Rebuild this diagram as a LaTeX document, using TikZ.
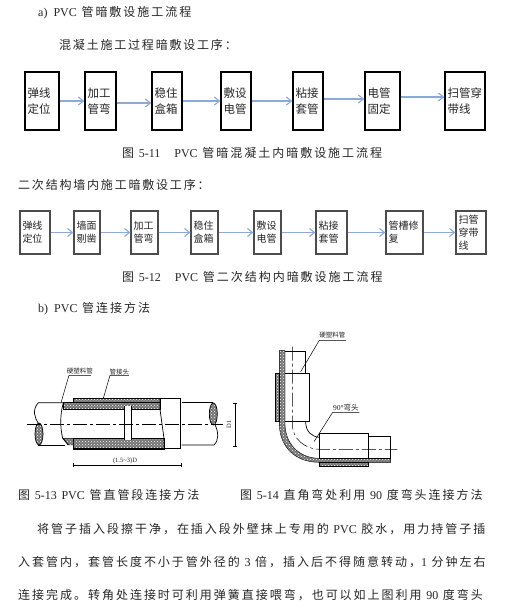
\documentclass[tikz,border=0pt]{standalone}
\usepackage{fontspec}
\usetikzlibrary{arrows.meta,patterns}
\setmainfont{Liberation Serif}
\newfontfamily\cjkbody[LetterSpace=15]{Noto Sans CJK SC}
\newfontfamily\cjkpara[LetterSpace=16.5]{Noto Sans CJK SC}
\newfontfamily\cjkbox{Noto Sans CJK SC}
\newcommand{\lat}[1]{{\fontspec{Liberation Serif}\fontsize{12}{12}\selectfont #1}}
\newcommand{\fwcomma}{\char"FF0C\relax}
\newcommand{\fwcolon}{\char"FF1A\relax}
\tikzset{
  line/.style={anchor=west,inner sep=0pt,text=black!85,font=\fontsize{12}{12}\selectfont\cjkbody},
  paraline/.style={line,font=\fontsize{12}{12}\selectfont\cjkpara},
  flowbox/.style={draw=black,fill=white,inner sep=2.5pt,align=left,text=black!85,font=\cjkbox},
  rowa/.style={flowbox,line width=1.4pt,font=\fontsize{11.5}{16}\selectfont\cjkbox},
  rowb/.style={flowbox,draw=black!70,line width=1.3pt,font=\fontsize{10}{13.3}\selectfont\cjkbox},
  flowarrow/.style={color={rgb,255:red,140;green,170;blue,215},line width=1.1pt,-{Straight Barb[length=5pt,width=8pt]}},
  pipeline/.style={draw=black,line width=0.7pt},
  heavy/.style={draw=black,line width=1pt},
  hatchband/.style={preaction={fill=black!55},pattern=crosshatch dots,pattern color=white,draw=black,line width=0.4pt},
  centre/.style={draw=black,line width=0.5pt,dash pattern=on 14pt off 3pt on 3pt off 3pt},
  tinylabel/.style={inner sep=0pt,text=black!85,font=\fontsize{6.5}{6.5}\selectfont\cjkbox},
  leader/.style={draw=black,line width=0.5pt},
  dimline/.style={draw=black,line width=0.6pt,{|[width=4pt]}-{|[width=4pt]}}
}
\begin{document}
\begin{tikzpicture}[x=1pt,y=-1pt]
\useasboundingbox[fill=white] (0,0) rectangle (509,608);
% text lines
\node[paraline] (t1) at (38,13) {\lat{a)\hspace{3pt} PVC} 管暗敷设施工流程};
\node[line] (t2) at (59,45) {混凝土施工过程暗敷设工序\fwcolon};
\node[paraline] (t3) at (122,153) {图 \lat{5-11}\hspace{14pt}\lat{PVC} 管暗混凝土内暗敷设施工流程};
\node[line] (t4) at (18,185) {二次结构墙内施工暗敷设工序\fwcolon};
\node[paraline] (t5) at (122,277) {图 \lat{5-12}\hspace{14pt}\lat{PVC} 管二次结构内暗敷设施工流程};
\node[paraline] (t6) at (38,309) {\lat{b)\hspace{3pt} PVC} 管连接方法};
\node[paraline] (t7) at (18,495) {图 \lat{5-13} \lat{PVC} 管直管段连接方法};
\node[paraline] (t8) at (240,495) {图 \lat{5-14} 直角弯处利用 \lat{90} 度弯头连接方法};
\node[paraline] (p1) at (37,529) {将管子插入段擦干净\fwcomma 在插入段外壁抹上专用的 \lat{PVC} 胶水\fwcomma 用力持管子插};
\node[paraline] (p2) at (18,562) {入套管内\fwcomma 套管长度不小于管外径的 \lat{3} 倍\fwcomma 插入后不得随意转动\fwcomma \lat{1} 分钟左右};
\node[paraline] (p3) at (18,595) {连接完成。转角处连接时可利用弹簧直接喂弯\fwcomma 也可以如上图利用 \lat{90} 度弯头};
% flow 1
\node[rowa,minimum width=34pt,minimum height=58pt,text width=29pt] (a1) at (42,101) {弹线\\定位};
\node[rowa,minimum width=31pt,minimum height=58pt,text width=26pt] (a2) at (100.5,101) {加工\\管弯};
\node[rowa,minimum width=30pt,minimum height=58pt,text width=25pt] (a3) at (167,101) {稳住\\盒箱};
\node[rowa,minimum width=30pt,minimum height=58pt,text width=25pt] (a4) at (236,101) {敷设\\电管};
\node[rowa,minimum width=30pt,minimum height=58pt,text width=25pt] (a5) at (308,101) {粘接\\套管};
\node[rowa,minimum width=35pt,minimum height=58pt,text width=30pt] (a6) at (382.5,101) {电管\\固定};
\node[rowa,minimum width=40pt,minimum height=58pt,text width=35pt] (a7) at (465,101) {扫管穿\\带线};
\draw[flowarrow] (a1.east) -- (a2.west);
\draw[flowarrow] ([yshift=-2pt]a2.east) -- ([yshift=-2pt]a3.west);
\draw[flowarrow] (a3.east) -- (a4.west);
\draw[flowarrow] (a4.east) -- (a5.west);
\draw[flowarrow] ([yshift=2pt]a5.east) -- ([yshift=2pt]a6.west);
\draw[flowarrow] ([yshift=4pt]a6.east) -- ([yshift=4pt]a7.west);
% flow 2
\node[rowb,minimum width=30pt,minimum height=43pt,text width=25pt] (b1) at (35,232.5) {弹线\\定位};
\node[rowb,minimum width=26pt,minimum height=43pt,text width=21pt] (b2) at (87,232.5) {墙面\\剔凿};
\node[rowb,minimum width=27pt,minimum height=43pt,text width=22pt] (b3) at (144.5,232.5) {加工\\管弯};
\node[rowb,minimum width=27pt,minimum height=43pt,text width=22pt] (b4) at (204.5,232.5) {稳住\\盒箱};
\node[rowb,minimum width=27pt,minimum height=43pt,text width=22pt] (b5) at (267.5,232.5) {敷设\\电管};
\node[rowb,minimum width=31pt,minimum height=43pt,text width=26pt] (b6) at (331.5,232.5) {粘接\\套管};
\node[rowb,minimum width=37pt,minimum height=43pt,text width=32pt] (b7) at (404.5,232.5) {管槽修\\复};
\node[rowb,minimum width=30pt,minimum height=43pt,text width=25pt] (b8) at (471,232.5) {扫管\\穿带\\线};
\draw[flowarrow] (b1.east) -- (b2.west);
\draw[flowarrow] (b2.east) -- (b3.west);
\draw[flowarrow] (b3.east) -- (b4.west);
\draw[flowarrow] (b4.east) -- (b5.west);
\draw[flowarrow] (b5.east) -- (b6.west);
\draw[flowarrow] (b6.east) -- (b7.west);
\draw[flowarrow] (b7.east) -- (b8.west);
% figure 5-13 (zoom coordinates)
\begin{scope}[shift={(10,330)},x=0.3333pt,y=-0.3333pt]
  % pipes
  \draw[pipeline] (165,218) -- (85,218) .. controls (65,240) and (75,265) .. (85,280);
  \draw[pipeline] (165,345) -- (85,345);
  \draw[pipeline,preaction={fill=black!55},pattern=crosshatch dots,pattern color=white] (87,312) ellipse [x radius=12,y radius=33];
  \draw[pipeline] (515,218) -- (610,218);
  \draw[pipeline] (515,345) -- (612,345) .. controls (628,330) and (625,305) .. (615,284);
  \draw[pipeline,preaction={fill=black!55},pattern=crosshatch dots,pattern color=white] (610,252) ellipse [x radius=12,y radius=33];
  % bands
  \fill[hatchband] (190,205) rectangle (450,218);
  \fill[hatchband] (160,218) rectangle (450,238);
  \fill[hatchband] (190,325) rectangle (462,357);
  \fill[hatchband] (160,325) -- (190,325) -- (190,345) -- (175,345) -- cycle;
  % socket
  \draw[heavy] (190,205) -- (512,205) -- (512,357) -- (190,357);
  \draw[pipeline] (450,205) -- (450,238) -- (462,325) -- (462,357);
  \draw[pipeline] (160,218) .. controls (150,255) and (150,290) .. (158,325) -- (175,345);
  % stop
  \fill[white] (343,228) rectangle (364,330);
  \draw[pipeline] (342,228) -- (342,330) (365,228) -- (365,330);
  \draw[centre] (52,282) -- (640,282);
  % labels
  \node[tinylabel] (l1) at (210,122) {硬塑料管};
  \node[tinylabel] (l2) at (328,125) {管接头};
  \coordinate (l1a) at (177,136);\coordinate (l1b) at (243,136);\coordinate (l1c) at (153,218);
  \coordinate (l2a) at (300,136);\coordinate (l2b) at (357,136);\coordinate (l2c) at (280,205);
  \draw[leader] (l1b) -- (l1a) -- (l1c);
  \draw[leader] (l2b) -- (l2a) -- (l2c);
  \coordinate (d1) at (190,405);\coordinate (d2) at (515,405);
  \draw[dimline] (d1) -- (d2);
  \node[tinylabel] (l3) at (345,392) {\fontspec{Liberation Serif}(1.5\textasciitilde 3)D};
  \coordinate (d3) at (675,218);\coordinate (d4) at (675,350);
  \draw[dimline] (d3) -- (d4);
  \node[tinylabel,rotate=90] (l4) at (657,283) {\fontspec{Liberation Serif}D1};
\end{scope}
% figure 5-14 (zoom coordinates)
\begin{scope}[shift={(260,330)},x=0.3333pt,y=-0.3333pt]
  \fill[hatchband] (58,62) -- (75,62) -- (75,285) .. controls (78,350) and (125,385) .. (178,385) -- (392,385) -- (392,397) -- (178,397) .. controls (105,397) and (58,350) .. (58,280) -- cycle;
  \fill[hatchband] (47,130) rectangle (58,275);
  \fill[hatchband] (178,397) rectangle (325,408);
  \draw[pipeline] (75,65) -- (137,65);
  \draw[pipeline] (137,65) -- (137,130);
  \draw[heavy] (75,130) -- (148,130) -- (148,275) -- (75,275);
  \draw[pipeline] (137,275) .. controls (137,305) and (155,320) .. (178,322);
  \draw[heavy] (178,385) -- (178,310) -- (325,310) -- (325,385);
  \draw[pipeline] (325,320) -- (392,320);
  \draw[pipeline] (392,320) -- (392,385);
  \draw[pipeline] (178,385) -- (392,385);
  \draw[centre] (97,50) -- (97,285) .. controls (97,325) and (135,358) .. (178,358) -- (412,358);
  \coordinate (m1a) at (178,31);\coordinate (m1b) at (258,31);\coordinate (m1c) at (122,125);
  \coordinate (m2a) at (218,247);\coordinate (m2b) at (298,247);\coordinate (m2c) at (162,335);
  \node[tinylabel] (m1) at (217,15) {硬塑料管};
  \node[tinylabel,font=\fontsize{7.5}{7.5}\selectfont\cjkbox] (m2) at (258,232) {\fontspec{Liberation Serif}90°\cjkbox 弯头};
  \draw[leader] (m1b) -- (m1a) -- (m1c);
  \draw[leader] (m2b) -- (m2a) -- (m2c);
\end{scope}
\end{tikzpicture}
\end{document}
